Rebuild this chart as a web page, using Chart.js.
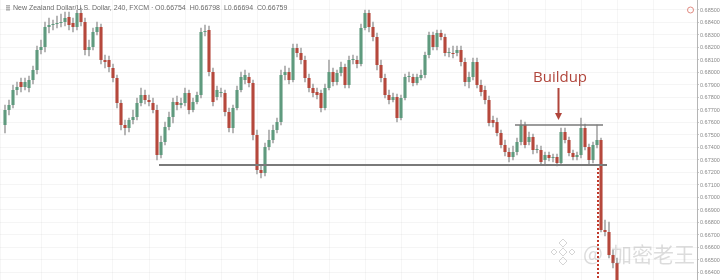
<!DOCTYPE html>
<html>
<head>
<meta charset="utf-8">
<title>NZD/USD 240</title>
<script src="https://cdn.jsdelivr.net/npm/chart.js"></script>
<style>
  html, body { margin: 0; padding: 0; background: #fff; }
  #wrap { width: 720px; height: 280px; }
</style>
</head>
<body>
<div id="wrap"><canvas id="chart" width="720" height="280"></canvas></div>
<script>
// NZD/USD 4H candles (FXCM)
const opens = [
  0.67580,0.67700,0.67740,0.67860,0.67924,0.67884,0.67876,0.67940,0.68020,0.68180,
  0.68204,0.68364,0.68380,0.68388,0.68396,0.68404,0.68444,0.68396,0.68364,0.68476,
  0.68404,0.68180,0.68204,0.68324,0.68364,0.68100,0.68100,0.68036,0.67956,0.67756,
  0.67580,0.67556,0.67620,0.67644,0.67756,0.67820,0.67780,0.67756,0.67700,0.67340,
  0.67444,0.67564,0.67644,0.67764,0.67740,0.67756,0.67836,0.67700,0.67764,0.67820,
  0.68324,0.68340,0.68004,0.67804,0.67836,0.67836,0.67684,0.67556,0.67716,0.67860,
  0.67940,0.67964,0.67916,0.67500,0.67220,0.67196,0.67404,0.67460,0.67540,0.67604,
  0.67980,0.68004,0.67940,0.68196,0.68156,0.68100,0.67956,0.67876,0.67844,0.67836,
  0.67716,0.67876,0.68004,0.67924,0.67996,0.68044,0.67900,0.68100,0.68100,0.68068,
  0.68356,0.68476,0.68364,0.68284,0.68060,0.67956,0.67820,0.67780,0.67804,0.67636,
  0.67796,0.67964,0.67964,0.67916,0.67956,0.67980,0.68140,0.68300,0.68204,0.68316,
  0.68284,0.68156,0.68156,0.68156,0.68180,0.68084,0.67924,0.67964,0.68084,0.67900,
  0.67860,0.67780,0.67620,0.67604,0.67516,0.67420,0.67364,0.67324,0.67364,0.67444,
  0.67580,0.67444,0.67484,0.67380,0.67380,0.67300,0.67340,0.67316,0.67324,0.67276,
  0.67524,0.67460,0.67356,0.67324,0.67340,0.67556,0.67404,0.67300,0.67420,0.67460,
  0.66740,0.66724,0.66540,0.66476
];
const closes = [
  0.67700,0.67740,0.67860,0.67884,0.67884,0.67924,0.67940,0.68020,0.68180,0.68204,
  0.68364,0.68380,0.68388,0.68396,0.68404,0.68436,0.68380,0.68364,0.68476,0.68404,
  0.68180,0.68204,0.68324,0.68364,0.68100,0.68084,0.68044,0.67956,0.67756,0.67580,
  0.67556,0.67620,0.67644,0.67756,0.67820,0.67780,0.67764,0.67700,0.67340,0.67444,
  0.67564,0.67644,0.67764,0.67740,0.67756,0.67836,0.67700,0.67764,0.67820,0.68324,
  0.68332,0.68004,0.67764,0.67860,0.67844,0.67684,0.67556,0.67716,0.67860,0.67964,
  0.67980,0.67916,0.67500,0.67220,0.67196,0.67404,0.67460,0.67540,0.67604,0.67980,
  0.68004,0.67940,0.68196,0.68156,0.68100,0.67956,0.67876,0.67836,0.67820,0.67716,
  0.67876,0.68004,0.67924,0.67996,0.68044,0.67900,0.68100,0.68108,0.68068,0.68356,
  0.68476,0.68364,0.68284,0.68060,0.67956,0.67820,0.67780,0.67804,0.67636,0.67796,
  0.67964,0.67972,0.67916,0.67964,0.67980,0.68140,0.68300,0.68204,0.68316,0.68284,
  0.68156,0.68164,0.68148,0.68180,0.68084,0.67924,0.67964,0.68084,0.67900,0.67844,
  0.67780,0.67596,0.67596,0.67516,0.67420,0.67364,0.67324,0.67364,0.67444,0.67580,
  0.67420,0.67484,0.67380,0.67388,0.67284,0.67340,0.67316,0.67324,0.67276,0.67524,
  0.67460,0.67356,0.67324,0.67340,0.67556,0.67404,0.67300,0.67420,0.67460,0.66740,
  0.66724,0.66540,0.66476,0.66300
];
const highs = [
  0.67740,0.67780,0.67900,0.67924,0.67956,0.67956,0.67972,0.68052,0.68212,0.68260,
  0.68404,0.68436,0.68420,0.68452,0.68468,0.68484,0.68484,0.68436,0.68500,0.68516,
  0.68436,0.68260,0.68356,0.68404,0.68388,0.68140,0.68132,0.68068,0.67980,0.67780,
  0.67620,0.67636,0.67700,0.67796,0.67876,0.67860,0.67820,0.67796,0.67740,0.67492,
  0.67604,0.67684,0.67796,0.67812,0.67796,0.67876,0.67860,0.67796,0.67844,0.68356,
  0.68380,0.68372,0.68036,0.67892,0.67876,0.67860,0.67716,0.67740,0.67892,0.68004,
  0.68020,0.67996,0.67940,0.67540,0.67260,0.67436,0.67540,0.67580,0.67636,0.68020,
  0.68052,0.68036,0.68228,0.68228,0.68196,0.68132,0.67988,0.67908,0.67876,0.67860,
  0.67908,0.68100,0.68036,0.68020,0.68084,0.68068,0.68132,0.68140,0.68132,0.68388,
  0.68500,0.68500,0.68404,0.68316,0.68100,0.67988,0.67860,0.67836,0.67828,0.67820,
  0.67988,0.68004,0.67988,0.67988,0.68020,0.68164,0.68324,0.68324,0.68340,0.68340,
  0.68308,0.68196,0.68212,0.68212,0.68212,0.68116,0.68004,0.68116,0.68116,0.67940,
  0.67892,0.67812,0.67652,0.67636,0.67540,0.67460,0.67396,0.67412,0.67476,0.67620,
  0.67604,0.67524,0.67508,0.67420,0.67412,0.67364,0.67364,0.67348,0.67348,0.67556,
  0.67556,0.67484,0.67380,0.67364,0.67636,0.67588,0.67428,0.67444,0.67580,0.67476,
  0.66820,0.66804,0.66580,0.66516
];
const lows = [
  0.67516,0.67660,0.67716,0.67820,0.67844,0.67860,0.67844,0.67908,0.67988,0.68148,
  0.68164,0.68316,0.68340,0.68356,0.68364,0.68372,0.68340,0.68324,0.68340,0.68372,
  0.68140,0.68132,0.68180,0.68300,0.68068,0.68036,0.68004,0.67924,0.67716,0.67540,
  0.67500,0.67524,0.67588,0.67620,0.67732,0.67748,0.67732,0.67676,0.67300,0.67316,
  0.67420,0.67540,0.67596,0.67700,0.67716,0.67732,0.67668,0.67684,0.67748,0.67796,
  0.68292,0.67972,0.67732,0.67780,0.67804,0.67652,0.67524,0.67516,0.67700,0.67844,
  0.67908,0.67884,0.67460,0.67188,0.67156,0.67172,0.67380,0.67436,0.67516,0.67580,
  0.67940,0.67908,0.67924,0.68124,0.68068,0.67924,0.67844,0.67804,0.67788,0.67684,
  0.67700,0.67860,0.67892,0.67900,0.67972,0.67876,0.67876,0.68068,0.68036,0.68052,
  0.68340,0.68324,0.68252,0.68020,0.67924,0.67796,0.67748,0.67764,0.67604,0.67620,
  0.67780,0.67924,0.67892,0.67900,0.67940,0.67956,0.68116,0.68180,0.68180,0.68260,
  0.68132,0.68124,0.68116,0.68132,0.68052,0.67892,0.67876,0.67940,0.67876,0.67812,
  0.67748,0.67572,0.67564,0.67492,0.67396,0.67332,0.67284,0.67300,0.67340,0.67420,
  0.67396,0.67420,0.67348,0.67356,0.67260,0.67268,0.67292,0.67284,0.67252,0.67260,
  0.67436,0.67332,0.67300,0.67300,0.67316,0.67380,0.67268,0.67276,0.67396,0.66724,
  0.66692,0.66516,0.66436,0.66260
];

// right price scale labels
const priceTicks = [
  0.685,0.684,0.683,0.682,0.681,0.680,0.679,0.678,0.677,0.676,0.675,
  0.674,0.673,0.672,0.671,0.670,0.669,0.668,0.667,0.666,0.665,0.664
];

// drawn levels (candle index / price)
const supportLevel = 0.6726, supportFrom = 38.5, supportTo = 150.5;
const buildupLevel = 0.6758, buildupFrom = 127.5, buildupTo = 149.5;
const arrowAt = 138.25, arrowTop = 0.67876, arrowTip = 0.67620;
const labelPrice = 0.67924;
const breakAt = 148.25, breakTop = 0.67236;

const upColor = '#5f9a7e';
const downColor = '#b5483c';
const wickColor = '#a8a8a8';
const markColor = '#b0453b';

const idx = closes.map((c, i) => i);

const overlay = {
  id: 'overlay',
  afterDatasetsDraw(chart) {
    const { ctx, scales: { x, y }, chartArea } = chart;
    ctx.save();

    // support + top of range
    ctx.strokeStyle = '#7a7a7a';
    ctx.lineWidth = 2;
    ctx.beginPath();
    ctx.moveTo(x.getPixelForValue(supportFrom), Math.round(y.getPixelForValue(supportLevel)));
    ctx.lineTo(x.getPixelForValue(supportTo), Math.round(y.getPixelForValue(supportLevel)));
    ctx.stroke();
    ctx.lineWidth = 1.5;
    ctx.beginPath();
    ctx.moveTo(x.getPixelForValue(buildupFrom), Math.round(y.getPixelForValue(buildupLevel)));
    ctx.lineTo(x.getPixelForValue(buildupTo), Math.round(y.getPixelForValue(buildupLevel)));
    ctx.stroke();

    // dotted breakout line
    ctx.strokeStyle = '#c0392b';
    ctx.lineWidth = 2;
    ctx.setLineDash([2, 2]);
    ctx.beginPath();
    ctx.moveTo(x.getPixelForValue(breakAt), y.getPixelForValue(breakTop));
    ctx.lineTo(x.getPixelForValue(breakAt), chartArea.bottom);
    ctx.stroke();
    ctx.setLineDash([]);

    // arrow + label
    const ax = Math.round(x.getPixelForValue(arrowAt)) + 0.5;
    const a0 = y.getPixelForValue(arrowTop), a1 = y.getPixelForValue(arrowTip);
    ctx.strokeStyle = markColor;
    ctx.fillStyle = markColor;
    ctx.lineWidth = 2;
    ctx.beginPath();
    ctx.moveTo(ax, a0);
    ctx.lineTo(ax, a1 - 5);
    ctx.stroke();
    ctx.beginPath();
    ctx.moveTo(ax - 3.5, a1 - 7);
    ctx.lineTo(ax + 3.5, a1 - 7);
    ctx.lineTo(ax, a1);
    ctx.closePath();
    ctx.fill();

    ctx.font = '15px "Open Sans", sans-serif';
    ctx.textAlign = 'center';
    ctx.textBaseline = 'alphabetic';
    ctx.fillText('Buildup', x.getPixelForValue(arrowAt) + 2, y.getPixelForValue(labelPrice));
    ctx.restore();
  },
  afterDraw(chart) {
    const { ctx } = chart;
    ctx.save();
    // legend line top-left
    ctx.font = '7px "Liberation Sans", sans-serif';
    ctx.textBaseline = 'middle';
    ctx.textAlign = 'left';
    ctx.fillStyle = '#6a6a6a';
    ctx.fillRect(6, 5.5, 4, 0.8);
    ctx.fillRect(6, 7.5, 4, 0.8);
    ctx.fillRect(6, 9.5, 4, 0.8);
    ctx.fillText('New Zealand Dollar/U.S. Dollar, 240, FXCM \u00b7', 13, 8);
    ctx.fillText('O0.66754  H0.66798  L0.66694  C0.66759', 155, 8);

    // alert icon
    ctx.strokeStyle = '#e08a80';
    ctx.lineWidth = 1;
    ctx.beginPath();
    ctx.arc(690.5, 10, 3, 0, Math.PI * 2);
    ctx.stroke();

    // watermark
    ctx.fillStyle = 'rgba(140,140,140,0.3)';
    ctx.strokeStyle = 'rgba(150,150,150,0.4)';
    const cx = 563, cy = 252;
    const diamond = (px, py, r) => {
      ctx.beginPath();
      ctx.moveTo(px, py - r); ctx.lineTo(px + r, py); ctx.lineTo(px, py + r); ctx.lineTo(px - r, py);
      ctx.closePath();
      ctx.stroke();
    };
    diamond(cx, cy, 4);
    diamond(cx - 9, cy, 3);
    diamond(cx + 9, cy, 3);
    diamond(cx, cy - 9, 4);
    diamond(cx, cy + 9, 4);
    ctx.font = '21px "Noto Sans CJK SC", sans-serif';
    ctx.textBaseline = 'alphabetic';
    ctx.fillText('@', 583, 261);
    ctx.fillText('加密老王', 611, 262);
    ctx.restore();
  }
};

new Chart(document.getElementById('chart'), {
  type: 'bar',
  data: {
    datasets: [
      {
        label: 'body',
        data: idx.map(i => ({ x: i, y: [opens[i], closes[i]] })),
        backgroundColor: idx.map(i => closes[i] >= opens[i] ? upColor : downColor),
        borderWidth: 0,
        barPercentage: 0.78,
        categoryPercentage: 1,
        minBarLength: 1,
        grouped: false
      },
      {
        label: 'wick',
        data: idx.map(i => ({ x: i, y: [lows[i], highs[i]] })),
        backgroundColor: wickColor,
        borderWidth: 0,
        barPercentage: 1,
        categoryPercentage: 1,
        maxBarThickness: 1,
        grouped: false
      }
    ]
  },
  options: {
    responsive: false,
    animation: false,
    layout: { padding: 0 },
    plugins: { legend: { display: false }, tooltip: { enabled: false } },
    scales: {
      x: {
        type: 'linear',
        offset: false,
        min: -1.25,
        max: 173,
        ticks: { display: false, stepSize: 9 },
        grid: { color: 'rgba(0,0,0,0.035)', drawTicks: false, offset: false },
        border: { display: false }
      },
      y: {
        position: 'right',
        min: 0.6634,
        max: 0.6858,
        afterBuildTicks: s => { s.ticks = priceTicks.map(v => ({ value: v })); },
        afterFit: s => { s.width = 23; s.paddingTop = 0; s.paddingBottom = 0; },
        ticks: {
          font: { family: 'Liberation Sans', size: 5.5 },
          color: '#8a8a8a',
          padding: 1,
          callback: v => v.toFixed(5)
        },
        grid: { color: 'rgba(0,0,0,0.04)', tickLength: 2, tickColor: '#c8c8c8' },
        border: { color: '#b5b5b5' }
      }
    }
  },
  plugins: [overlay]
});
</script>
</body>
</html>
